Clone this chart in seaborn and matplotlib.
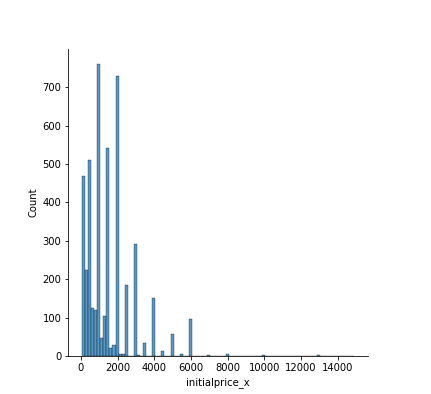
import matplotlib
matplotlib.use("Agg")
import matplotlib.pyplot as plt
import seaborn as sns
import numpy as np

# representative price in each populated bin and the bin count
prices = [100, 300, 500, 650, 800, 1000, 1100, 1300, 1500, 1600, 1800, 2000,
          2100, 2300, 2500, 3000, 3100, 3500, 4000, 4500, 5000, 5500, 6000,
          7000, 8000, 10000, 13000, 14850]
counts = [470, 224, 511, 124, 120, 761, 48, 103, 542, 20, 29, 729,
          5, 5, 185, 292, 3, 35, 152, 12, 58, 5, 97,
          3, 5, 2, 2, 1]
n_bins = 89
bin_range = (50, 14890)

fig = plt.figure(figsize=(431 / 72, 394 / 72), dpi=72)
ax = fig.add_axes([68.3 / 431, 1 - 356 / 394, (367.7 - 68.3) / 431, (356 - 49.3) / 394])
sns.histplot(x=prices, weights=counts, bins=n_bins, binrange=bin_range, ax=ax)
sns.despine(ax=ax)
ax.set_xlabel("initialprice_x")
ax.set_ylabel("Count")
ax.set_xticks([0, 2000, 4000, 6000, 8000, 10000, 12000, 14000])
ax.set_yticks([0, 100, 200, 300, 400, 500, 600, 700])
fig.savefig("out.png", dpi=72)
